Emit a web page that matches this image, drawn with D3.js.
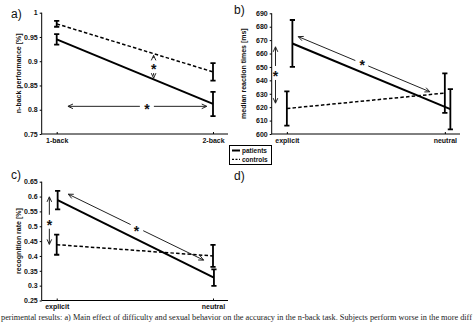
<!DOCTYPE html>
<html><head><meta charset="utf-8">
<script src="https://cdn.jsdelivr.net/npm/d3@7"></script>
<style>
html,body{margin:0;padding:0;background:#fff;overflow:hidden;}
svg{display:block;}
text{font-family:Arial,"Liberation Sans",sans-serif;}
text.caption{font-family:"Liberation Serif","DejaVu Serif",serif;}
</style></head><body>
<svg id="chart" width="474" height="323"></svg>
<script>
// ---------- data ----------
const categoriesA = ["1-back", "2-back"];
const patientsA = [0.945, 0.812];
const patientsAErr = [0.011, 0.025];
const controlsA = [0.977, 0.878];
const controlsAErr = [0.006, 0.018];
const ticksA = [0.75, 0.8, 0.85, 0.9, 0.95, 1];
const tickLabelsA = ["0.75", "0.8", "0.85", "0.9", "0.95", "1"];

const categoriesB = ["explicit", "neutral"];
const patientsB = [667.5, 618.5];
const patientsBErr = [17.5, 15];
const controlsB = [619, 630.5];
const controlsBErr = [12.8, 14.7];
const ticksB = [600, 610, 620, 630, 640, 650, 660, 670, 680, 690];
const tickLabelsB = ["600", "610", "620", "630", "640", "650", "660", "670", "680", "690"];

const categoriesC = ["explicit", "neutral"];
const patientsC = [0.588, 0.327];
const patientsCErr = [0.031, 0.028];
const controlsC = [0.438, 0.40];
const controlsCErr = [0.034, 0.037];
const ticksC = [0.25, 0.3, 0.35, 0.4, 0.45, 0.5, 0.55, 0.6, 0.65];
const tickLabelsC = ["0.25", "0.3", "0.35", "0.4", "0.45", "0.5", "0.55", "0.6", "0.65"];

const legendLabels = ["patients", "controls"];
const panelLabels = ["a)", "b)", "c)", "d)"];
const yLabels = ["n-back performance [%]", "median reaction times [ms]", "recognition rate [%]"];
const caption = "perimental results: a) Main effect of difficulty and sexual behavior on the accuracy in the n-back task. Subjects perform worse in the more diff";

// annotations in data units
const annotA = [
  {x1: 1.072, y1: 0.807, x2: 1.96, y2: 0.807, sx: 1.577, sy: 0.807, dashed: false},
  {x1: 1.62, y1: 0.912, x2: 1.62, y2: 0.865, sx: 1.62, sy: 0.890, dashed: true}
];
const annotB = [
  {x1: 0.928, y1: 665, x2: 0.928, y2: 623, sx: 0.928, sy: 645.5, dashed: false},
  {x1: 1.072, y1: 672.6, x2: 1.905, y2: 631.5, sx: 1.477, sy: 653.5, dashed: false}
];
const annotC = [
  {x1: 0.953, y1: 0.599, x2: 0.953, y2: 0.439, sx: 0.953, sy: 0.515, dashed: false},
  {x1: 1.074, y1: 0.608, x2: 1.94, y2: 0.386, sx: 1.511, sy: 0.493, dashed: false}
];

// ---------- drawing ----------
const svg = d3.select("#chart");

function panel(o) {
  const x = d3.scaleLinear().domain([0.904, 2.096]).range([o.left, o.right]);
  const y = d3.scaleLinear().domain(o.domain).range([o.bottom, o.top]);
  const g = svg.append("g");

  const ya = d3.axisLeft(y).tickValues(o.ticks).tickSize(2).tickPadding(2)
    .tickFormat((d, i) => o.tickLabels[i]);
  const gy = g.append("g").attr("transform", `translate(${o.left},0)`).call(ya);
  gy.select(".domain").attr("d", `M0,${o.bottom}V${o.top}`).attr("stroke", "#000");
  gy.selectAll("text").attr("font-size", 7).attr("font-weight", "bold").attr("fill", "#111");

  const xa = d3.axisBottom(x).tickValues([1, 2]).tickSize(-2).tickPadding(4)
    .tickFormat((d, i) => o.cats[i]);
  const gx = g.append("g").attr("transform", `translate(0,${o.bottom})`).call(xa);
  gx.select(".domain").attr("d", `M${o.left},0H${o.right}`).attr("stroke", "#000");
  gx.selectAll("text").attr("font-size", 7).attr("font-weight", "bold").attr("fill", "#111");

  g.append("text").attr("transform", `translate(${o.ylx},${(o.top + o.bottom) / 2}) rotate(-90)`)
    .attr("text-anchor", "middle").attr("font-size", 7).attr("font-weight", "bold")
    .attr("fill", "#111").text(o.ylabel);

  g.append("text").attr("x", o.plx).attr("y", o.ply).attr("font-size", 12)
    .attr("fill", "#111").text(o.plabel);

  const series = [
    {v: o.controls, e: o.controlsErr, off: 0, dash: "3.5,2.2", w: 1.5},
    {v: o.patients, e: o.patientsErr, off: o.poff, dash: null, w: 2}
  ];
  series.forEach(s => {
    const pts = s.v.map((v, i) => [x(i + 1 + s.off), y(v)]);
    g.append("path").attr("d", d3.line()(pts)).attr("fill", "none")
      .attr("stroke", "#000").attr("stroke-width", s.w)
      .attr("stroke-dasharray", s.dash);
    s.v.forEach((v, i) => {
      const cx = x(i + 1 + s.off), t = y(v + s.e[i]), b = y(v - s.e[i]);
      const p = d3.path();
      p.moveTo(cx, t); p.lineTo(cx, b);
      p.moveTo(cx - 2.6, t); p.lineTo(cx + 2.6, t);
      p.moveTo(cx - 2.6, b); p.lineTo(cx + 2.6, b);
      g.append("path").attr("d", p.toString()).attr("stroke", "#000")
        .attr("stroke-width", 1.8).attr("fill", "none");
    });
  });

  o.annot.forEach(a => {
    const X1 = x(a.x1), Y1 = y(a.y1), X2 = x(a.x2), Y2 = y(a.y2);
    const SX = x(a.sx), SY = y(a.sy);
    const len = Math.hypot(X2 - X1, Y2 - Y1);
    const ux = (X2 - X1) / len, uy = (Y2 - Y1) / len;
    const gap = 7;
    const d1 = (SX - X1) * ux + (SY - Y1) * uy;
    const p = d3.path();
    p.moveTo(X1, Y1); p.lineTo(X1 + ux * (d1 - gap), Y1 + uy * (d1 - gap));
    p.moveTo(X1 + ux * (d1 + gap), Y1 + uy * (d1 + gap)); p.lineTo(X2, Y2);
    g.append("path").attr("d", p.toString()).attr("stroke", "#222")
      .attr("stroke-width", 1).attr("fill", "none")
      .attr("stroke-dasharray", a.dashed ? "2.5,1.8" : null);
    const h = 5, w = 2.3;
    const heads = d3.path();
    [[X1, Y1, ux, uy], [X2, Y2, -ux, -uy]].forEach(([px, py, dx, dy]) => {
      heads.moveTo(px + dx * h - dy * w, py + dy * h + dx * w);
      heads.lineTo(px, py);
      heads.lineTo(px + dx * h + dy * w, py + dy * h - dx * w);
    });
    g.append("path").attr("d", heads.toString()).attr("stroke", "#222")
      .attr("stroke-width", 1).attr("fill", "none");
    g.append("text").attr("x", SX).attr("y", SY + 8).attr("text-anchor", "middle")
      .attr("font-size", 14).attr("font-weight", "bold").attr("fill", "#111").text("*");
  });
}

panel({left: 41.7, right: 228, top: 12.7, bottom: 134, domain: [0.75, 1],
  ticks: ticksA, tickLabels: tickLabelsA, cats: categoriesA,
  patients: patientsA, patientsErr: patientsAErr, controls: controlsA, controlsErr: controlsAErr,
  poff: 0, annot: annotA, ylabel: yLabels[0], ylx: 21, plabel: panelLabels[0], plx: 11, ply: 18});

panel({left: 271.7, right: 460, top: 13.3, bottom: 134, domain: [600, 690],
  ticks: ticksB, tickLabels: tickLabelsB, cats: categoriesB,
  patients: patientsB, patientsErr: patientsBErr, controls: controlsB, controlsErr: controlsBErr,
  poff: 0.035, annot: annotB, ylabel: yLabels[1], ylx: 246, plabel: panelLabels[1], plx: 234, ply: 14});

panel({left: 41.7, right: 228, top: 181.7, bottom: 300.5, domain: [0.25, 0.65],
  ticks: ticksC, tickLabels: tickLabelsC, cats: categoriesC,
  patients: patientsC, patientsErr: patientsCErr, controls: controlsC, controlsErr: controlsCErr,
  poff: 0.006, annot: annotC, ylabel: yLabels[2], ylx: 21, plabel: panelLabels[2], plx: 11, ply: 179});

svg.append("text").attr("x", 234).attr("y", 180).attr("font-size", 12).attr("fill", "#111").text(panelLabels[3]);

const lg = svg.append("g");
lg.append("rect").attr("x", 229.5).attr("y", 145.5).attr("width", 42).attr("height", 19)
  .attr("fill", "#fff").attr("stroke", "#000").attr("stroke-width", 1);
legendLabels.forEach((lab, i) => {
  const yy = 150.5 + i * 8.8;
  lg.append("line").attr("x1", 232).attr("x2", 240).attr("y1", yy).attr("y2", yy)
    .attr("stroke", "#000").attr("stroke-width", i === 0 ? 2 : 1.2)
    .attr("stroke-dasharray", i === 0 ? null : "2,1.5");
  lg.append("text").attr("x", 242).attr("y", yy + 2.4).attr("font-size", 6.5)
    .attr("font-weight", "bold").attr("fill", "#111").text(lab);
});

svg.append("text").attr("class", "caption").attr("x", 1).attr("y", 320)
  .attr("font-size", 7.5).attr("fill", "#222")
  .attr("textLength", 471).attr("lengthAdjust", "spacingAndGlyphs").text(caption);
</script>
</body></html>
